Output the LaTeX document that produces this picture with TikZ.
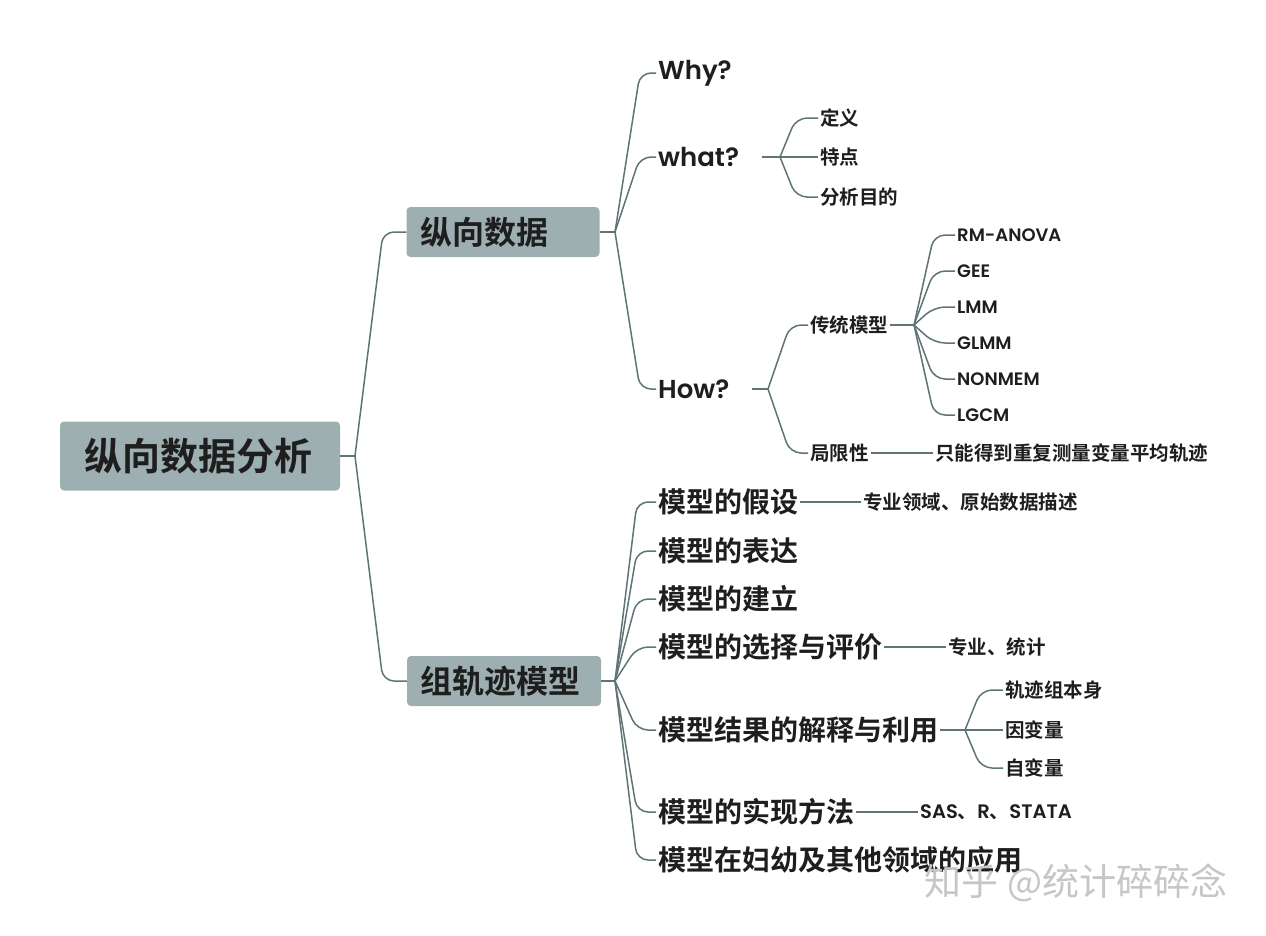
\documentclass[tikz,border=0pt]{standalone}
\usepackage{fontspec}
\setmainfont{Noto Sans CJK SC}[BoldFont={* Bold}]
\newfontfamily\latfont{Poppins}[BoldFont={* SemiBold}]
\usetikzlibrary{calc}
\definecolor{ln}{HTML}{5F7475}
\definecolor{bx}{HTML}{9EAFB2}
\definecolor{tx}{HTML}{1E1E1E}
\tikzset{
 boxn/.style={fill=bx,rounded corners=4pt,inner sep=0pt},
 boxt/.style={anchor=west,text=tx,font=\bfseries\fontsize{32}{32}\selectfont,inner sep=0pt},
 bign/.style={anchor=west,text=tx,font=\bfseries\fontsize{28}{28}\selectfont,inner xsep=2pt,inner ysep=0pt},
 latn/.style={bign,font=\latfont\bfseries\fontsize{26}{26}\selectfont},
 smalln/.style={anchor=west,text=tx,font=\bfseries\fontsize{19.5}{19.5}\selectfont,inner xsep=2pt,inner ysep=0pt},
 cl/.style={draw=ln,line width=1.5pt,rounded corners=11pt},
}
\newcommand{\conn}[3]{\draw[cl] let \p1=(#1), \p2=(#2.west) in (\p1) -- (\x1+#3pt,\y2) -- (\p2);}
\begin{document}
\begin{tikzpicture}[x=1pt,y=-1pt]
\useasboundingbox (0,0) rectangle (1266,935);
\fill[white] (0,0) rectangle (1266,935);
\node[boxn,minimum width=280,minimum height=69] (root) at (200,456) {};
\node[boxt,font=\bfseries\fontsize{38}{38}\selectfont] (roott) at (84,456) {纵向数据分析};
\node[boxn,minimum width=193,minimum height=50] (a) at (503,232) {};
\node[boxt] (at) at (420,232) {纵向数据};
\node[boxn,minimum width=194,minimum height=50] (b) at (504,681) {};
\node[boxt] (bt) at (420,681) {组轨迹模型};
\coordinate (r0) at (355,456);
\draw[cl] (root.east) -- (r0);
\conn{r0}{a}{28}\conn{r0}{b}{28}
% A branch
\coordinate (a0) at (615,232);
\draw[cl] (a.east) -- (a0);
\node[latn] (why) at (656,73) {Why?};
\node[latn] (what) at (656,157) {what?};
\node[latn] (how) at (656,389) {How?};
\conn{a0}{why}{25}\conn{a0}{what}{25}\conn{a0}{how}{25}
\coordinate (w0) at (780,157);
\draw[cl] (762,157) -- (w0);
\node[smalln] (d1) at (818,118) {定义};
\node[smalln] (d2) at (818,157) {特点};
\node[smalln] (d3) at (818,197) {分析目的};
\conn{w0}{d1}{16}\conn{w0}{d2}{16}\conn{w0}{d3}{16}
\coordinate (h0) at (768,389);
\draw[cl] (752,389) -- (h0);
\node[smalln] (t) at (808,325) {传统模型};
\node[smalln] (lim) at (808,453) {局限性};
\conn{h0}{t}{22}\conn{h0}{lim}{22}
\coordinate (t0) at (914,325);
\draw[cl] (t.east) -- (t0);
\foreach \nm/\yy/\s in {m1/235/RM-ANOVA,m2/271/GEE,m3/307/LMM,m4/343/GLMM,m5/379/NONMEM,m6/415/LGCM}{
 \node[smalln,font=\latfont\bfseries\fontsize{18}{18}\selectfont] (\nm) at (955,\yy) {\s};
 \conn{t0}{\nm}{20}
}
\node[smalln] (limc) at (933,453) {只能得到重复测量变量平均轨迹};
\draw[cl] (lim.east) -- (limc.west);
% B branch
\coordinate (b0) at (615,681);
\draw[cl] (b.east) -- (b0);
\node[bign] (e1) at (656,502) {模型的假设};
\node[bign] (e2) at (656,551) {模型的表达};
\node[bign] (e3) at (656,599) {模型的建立};
\node[bign] (e4) at (656,647) {模型的选择与评价};
\node[bign] (e5) at (656,730) {模型结果的解释与利用};
\node[bign] (e6) at (656,812) {模型的实现方法};
\node[bign] (e7) at (656,860) {模型在妇幼及其他领域的应用};
\foreach \nm in {e1,e2,e3,e4,e5,e6,e7}{\conn{b0}{\nm}{22}}
\node[smalln] (f1) at (861,502) {专业领域、原始数据描述};
\draw[cl] (e1.east) -- (f1.west);
\node[smalln] (f4) at (946,647) {专业、统计};
\draw[cl] (e4.east) -- (f4.west);
\node[smalln] (f6) at (918,812) {{\latfont SAS}、{\latfont R}、{\latfont STATA}};
\draw[cl] (e6.east) -- (f6.west);
\coordinate (g0) at (965,730);
\draw[cl] (e5.east) -- (g0);
\node[smalln] (g1) at (1003,690) {轨迹组本身};
\node[smalln] (g2) at (1003,730) {因变量};
\node[smalln] (g3) at (1003,768) {自变量};
\conn{g0}{g1}{16}\conn{g0}{g2}{16}\conn{g0}{g3}{16}
\node[text=gray!45,font=\fontsize{37}{37}\selectfont] (wm) at (1076,883) {知乎 @统计碎碎念};
\end{tikzpicture}
\end{document}
